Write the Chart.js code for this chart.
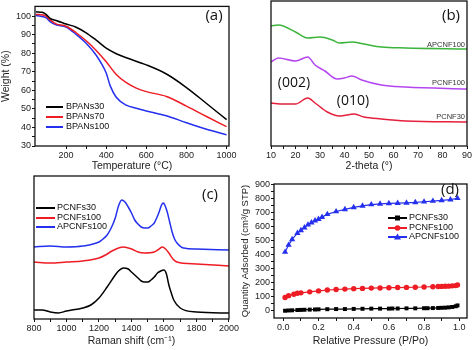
<!DOCTYPE html>
<html>
<head>
<meta charset="utf-8">
<script src="https://cdn.jsdelivr.net/npm/chart.js@4.4.1/dist/chart.umd.min.js"></script>
<style>
  html, body { margin: 0; padding: 0; background: #fff; }
  #fig { position: relative; width: 474px; height: 350px; }
  canvas { position: absolute; }
</style>
</head>
<body>
<div id="fig">
  <canvas id="chartA" width="240" height="175" style="left:0;top:0"></canvas>
  <canvas id="chartB" width="234" height="175" style="left:240px;top:0"></canvas>
  <canvas id="chartC" width="240" height="175" style="left:0;top:175px"></canvas>
  <canvas id="chartD" width="234" height="175" style="left:240px;top:175px"></canvas>
</div>
<script>
// (a) TGA weight loss
const tgaTemp30 = [50, 80, 100, 120, 150, 200, 250, 300, 350, 400, 450, 500, 600, 700, 800, 900, 1000];
const tgaBPANs30 = [102.3, 102, 100.9, 98.8, 97.6, 95.7, 94, 91, 87, 82.7, 79.7, 77.5, 73.7, 68.8, 61.5, 52.9, 44.2];
const tgaTemp70 = [50, 100, 120, 150, 200, 250, 300, 350, 400, 450, 500, 550, 600, 700, 800, 900, 1000];
const tgaBPANs70 = [101, 100, 97.9, 95.8, 94.5, 91, 86.7, 81.5, 75.4, 68.5, 64.1, 61.2, 59.3, 56.7, 51.5, 45.9, 40.4];
const tgaTemp100 = [50, 100, 120, 150, 200, 250, 300, 350, 380, 400, 420, 450, 500, 550, 600, 700, 800, 900, 1000];
const tgaBPANs100 = [100.3, 99.1, 97, 95.3, 94.1, 90.1, 85.3, 78.9, 73.7, 69.3, 62.4, 56.3, 52, 50.3, 48.9, 46.3, 42.5, 39, 36];
const tgaXTicks = [200, 400, 600, 800, 1000];
const tgaYTicks = [30, 40, 50, 60, 70, 80, 90, 100];

// (b) XRD patterns (a.u.)
const xrdApcnfX = [10, 13, 20, 25, 30, 35, 38, 43, 48, 55, 65, 90];
const xrdApcnf100 = [120, 121, 114, 108, 109, 106, 103, 104, 102, 99, 98, 97];
const xrdPcnf100X = [10, 13, 20, 25, 28, 32, 37, 40, 43, 47, 55, 65, 90];
const xrdPcnf100 = [84, 88, 85, 89, 81, 75, 67, 68, 70, 66, 61, 59, 57];
const xrdPcnf30X = [10, 15, 20, 25, 28, 33, 38, 44, 48, 55, 65, 90];
const xrdPcnf30 = [43, 42, 42, 48, 43, 34, 30, 32, 29, 27, 25, 24];
const xrdXTicks = [10, 20, 30, 40, 50, 60, 70, 80, 90];

// (c) Raman spectra (a.u.)
const ramanApcnfX = [800, 900, 1000, 1100, 1200, 1225, 1250, 1275, 1300, 1320, 1340, 1360, 1380, 1400, 1420, 1440, 1460, 1480, 1500, 1520, 1540, 1555, 1570, 1585, 1595, 1605, 1620, 1635, 1650, 1665, 1680, 1720, 1800, 2000];
const ramanApcnfs100 = [72, 73, 72, 73, 77, 80, 84, 91, 101, 113, 119, 117, 112, 106, 99, 95, 92, 91, 91, 93, 96, 101, 107, 114, 116, 114, 107, 97, 87, 80, 76, 71, 70, 69];
const ramanPcnf100X = [800, 900, 1000, 1100, 1200, 1240, 1280, 1320, 1350, 1400, 1440, 1480, 1540, 1570, 1590, 1610, 1630, 1655, 1680, 1800, 2000];
const ramanPcnfs100 = [57, 56, 57, 58, 61, 64, 68, 71, 72, 70, 67, 66, 67, 70, 72, 70, 66, 60, 57, 55, 53];
const ramanPcnf30X = [800, 850, 900, 950, 1000, 1100, 1150, 1200, 1250, 1300, 1320, 1350, 1380, 1400, 1420, 1440, 1460, 1480, 1500, 1520, 1540, 1560, 1580, 1600, 1615, 1630, 1645, 1660, 1700, 1800, 2000];
const ramanPcnfs30 = [9, 9, 7, 6, 8, 11, 14, 21, 32, 44, 48, 51, 50, 47, 44, 41, 38, 37, 37, 39, 42, 46, 48, 49, 45, 34, 26, 19, 11, 7, 6];
const ramanXTicks = [800, 1000, 1200, 1400, 1600, 1800, 2000];

// (d) N2 isotherms
const isoP = [0.01, 0.03, 0.05, 0.08, 0.1, 0.12, 0.14, 0.16, 0.18, 0.2, 0.22, 0.25, 0.3, 0.35, 0.4, 0.45, 0.5, 0.55, 0.6, 0.65, 0.7, 0.75, 0.8, 0.85, 0.9, 0.95, 0.99];
const isoApcnfs100 = [420, 470, 510, 555, 575, 595, 615, 630, 645, 655, 670, 690, 710, 725, 740, 750, 760, 765, 768, 770, 772, 775, 780, 785, 790, 795, 805];
const isoP2 = [0.01, 0.03, 0.06, 0.08, 0.1, 0.15, 0.2, 0.25, 0.3, 0.35, 0.4, 0.45, 0.5, 0.55, 0.6, 0.65, 0.7, 0.75, 0.8, 0.85, 0.88, 0.9, 0.92, 0.94, 0.96, 0.98, 0.99];
const isoPcnfs100 = [95, 108, 118, 125, 128, 135, 142, 148, 152, 155, 158, 160, 162, 163, 165, 166, 167, 168, 170, 172, 173, 174, 175, 176, 178, 180, 185];
const isoP3 = [0.01, 0.03, 0.05, 0.08, 0.1, 0.12, 0.15, 0.18, 0.2, 0.25, 0.3, 0.35, 0.4, 0.45, 0.5, 0.55, 0.6, 0.62, 0.65, 0.7, 0.75, 0.8, 0.82, 0.85, 0.88, 0.9, 0.92, 0.94, 0.96, 0.98, 0.99];
const isoPcnfs30 = [0, 2, 3, 5, 6, 7, 8, 9, 10, 11, 12, 12, 13, 14, 15, 15, 15, 16, 16, 17, 17, 18, 18, 19, 20, 21, 22, 24, 27, 32, 38];
const isoXTicks = [0, 0.2, 0.4, 0.6, 0.8, 1.0];
const isoYTicks = [0, 100, 200, 300, 400, 500, 600, 700, 800, 900];

const FONT = '"Liberation Sans", Arial, sans-serif';

function pts(xs, ys) {
  return xs.map((x, i) => ({ x: x, y: ys[i] }));
}

// majors plus unlabeled minor ticks halfway between them
function withMinors(major) {
  const out = [];
  major.forEach((v, i) => {
    out.push({ value: v });
    if (i < major.length - 1) out.push({ value: (v + major[i + 1]) / 2, minor: true });
  });
  return out;
}

// frame round the plot area + free text + hand placed legend
const panelDecor = {
  id: 'panelDecor',
  afterDraw(chart, args, opts) {
    const ctx = chart.ctx;
    const a = chart.chartArea;
    ctx.save();
    ctx.strokeStyle = '#111';
    ctx.lineWidth = 1.3;
    ctx.strokeRect(a.left, a.top, a.right - a.left, a.bottom - a.top);
    (opts.texts || []).forEach(t => {
      ctx.fillStyle = t.color || '#111';
      ctx.font = t.font;
      ctx.textAlign = t.align || 'center';
      ctx.textBaseline = 'middle';
      ctx.fillText(t.text, t.x, t.y);
    });
    if (opts.legend) {
      const lg = opts.legend;
      chart.data.datasets.forEach((ds, i) => {
        const y = lg.ys[i];
        ctx.strokeStyle = ds.borderColor;
        ctx.lineWidth = 2;
        ctx.beginPath();
        ctx.moveTo(lg.x0, y);
        ctx.lineTo(lg.x1, y);
        ctx.stroke();
        if (lg.markers) {
          const cx = (lg.x0 + lg.x1) / 2;
          ctx.fillStyle = ds.borderColor;
          ctx.beginPath();
          if (ds.pointStyle === 'rect') {
            ctx.rect(cx - 2.5, y - 2.5, 5, 5);
          } else if (ds.pointStyle === 'triangle') {
            ctx.moveTo(cx, y - 3.5); ctx.lineTo(cx + 3.5, y + 2.5); ctx.lineTo(cx - 3.5, y + 2.5); ctx.closePath();
          } else {
            ctx.arc(cx, y, 2.8, 0, Math.PI * 2);
          }
          ctx.fill();
        }
        ctx.fillStyle = '#111';
        ctx.font = lg.font;
        ctx.textAlign = 'left';
        ctx.textBaseline = 'middle';
        ctx.fillText(ds.label, lg.tx, y);
      });
    }
    ctx.restore();
  }
};
Chart.register(panelDecor);

function xAxis(min, max, ticks, title, height, fmt) {
  const f = fmt || (v => v);
  return {
    type: 'linear', position: 'bottom', min: min, max: max,
    afterBuildTicks: s => { s.ticks = withMinors(ticks); },
    afterFit: s => { s.height = height; },
    ticks: { autoSkip: false, maxRotation: 0, padding: 1, color: '#222',
             font: { family: FONT, size: 9 },
             callback: (v, i, all) => all[i].minor ? '' : f(v) },
    grid: { drawOnChartArea: false, drawTicks: true, tickLength: 3, color: '#111', lineWidth: 1 },
    border: { display: false },
    title: { display: true, text: title, color: '#222', padding: { top: 0, bottom: 3 },
             font: { family: FONT, size: 10.5 } }
  };
}

function yAxis(min, max, ticks, title, width) {
  const ax = {
    type: 'linear', min: min, max: max,
    afterFit: s => { s.width = width; },
    border: { display: false }
  };
  if (ticks) {
    ax.afterBuildTicks = s => { s.ticks = withMinors(ticks); };
    ax.ticks = { autoSkip: false, padding: 1, color: '#222', font: { family: FONT, size: 9 },
                 callback: (v, i, all) => all[i].minor ? '' : v };
    ax.grid = { drawOnChartArea: false, drawTicks: true, tickLength: 3, color: '#111', lineWidth: 1 };
    ax.title = { display: true, text: title, color: '#222', padding: 0,
                 font: { family: FONT, size: title.length > 15 ? 9.5 : 10.5 } };
  } else {
    ax.ticks = { display: false };
    ax.grid = { display: false };
  }
  return ax;
}

function lineSet(label, data, color) {
  return { label: label, data: data, borderColor: color, backgroundColor: color,
           borderWidth: 1.5, pointRadius: 0, tension: 0.4, cubicInterpolationMode: 'monotone' };
}

function baseOptions(pad, scales, decor) {
  return {
    responsive: false, animation: false, devicePixelRatio: 1,
    layout: { padding: pad },
    scales: scales,
    plugins: { legend: { display: false }, tooltip: { enabled: false }, panelDecor: decor }
  };
}

// (a)
new Chart(document.getElementById('chartA'), {
  type: 'line',
  data: { datasets: [
    lineSet('BPANs30', pts(tgaTemp30, tgaBPANs30), '#000000'),
    lineSet('BPANs70', pts(tgaTemp70, tgaBPANs70), '#ee1c24'),
    lineSet('BPANs100', pts(tgaTemp100, tgaBPANs100), '#2430ee')
  ] },
  options: baseOptions({ top: 1, right: 11 }, {
    x: xAxis(45, 1012, tgaXTicks, 'Temperature (°C)', 29),
    y: yAxis(30, 105.2, tgaYTicks, 'Weight (%)', 35)
  }, {
    texts: [{ text: '(a)', x: 214, y: 16, font: '15px "Open Sans", sans-serif' }],
    legend: { x0: 46, x1: 63, tx: 66, ys: [107, 117, 127], font: '9px ' + FONT }
  })
});

// (b)
new Chart(document.getElementById('chartB'), {
  type: 'line',
  data: { datasets: [
    lineSet('APCNF100', pts(xrdApcnfX, xrdApcnf100), '#3cb43c'),
    lineSet('PCNF100', pts(xrdPcnf100X, xrdPcnf100), '#b446f0'),
    lineSet('PCNF30', pts(xrdPcnf30X, xrdPcnf30), '#e4203c')
  ] },
  options: baseOptions({ top: 1, right: 7 }, {
    x: xAxis(10, 90, xrdXTicks, '2-theta (°)', 29),
    y: yAxis(0, 145, null, '', 31)
  }, {
    texts: [
      { text: '(b)', x: 211, y: 16, font: '15px "Open Sans", sans-serif' },
      { text: '(002)', x: 54, y: 83, font: '14px "Open Sans", sans-serif' },
      { text: '(010)', x: 113, y: 101, font: '14px "Open Sans", sans-serif' },
      { text: 'APCNF100', x: 225, y: 45, align: 'right', font: '7.5px ' + FONT, color: '#333' },
      { text: 'PCNF100', x: 225, y: 83, align: 'right', font: '7.5px ' + FONT, color: '#333' },
      { text: 'PCNF30', x: 225, y: 117, align: 'right', font: '7.5px ' + FONT, color: '#333' }
    ]
  })
});

// (c)
new Chart(document.getElementById('chartC'), {
  type: 'line',
  data: { datasets: [
    lineSet('PCNFs30', pts(ramanPcnf30X, ramanPcnfs30), '#000000'),
    lineSet('PCNFs100', pts(ramanPcnf100X, ramanPcnfs100), '#ee1c24'),
    lineSet('APCNFs100', pts(ramanApcnfX, ramanApcnfs100), '#2430ee')
  ] },
  options: baseOptions({ top: 1, right: 11 }, {
    x: xAxis(800, 2000, ramanXTicks, 'Raman shift (cm⁻¹)', 31),
    y: yAxis(0, 143, null, '', 34)
  }, {
    texts: [{ text: '(c)', x: 210, y: 20, font: '15px "Open Sans", sans-serif' }],
    legend: { x0: 36, x1: 55, tx: 57, ys: [33, 43, 52], font: '9px ' + FONT }
  })
});

// (d)
function markSet(label, data, color, style, r) {
  return { label: label, data: data, borderColor: color, backgroundColor: color,
           borderWidth: 1.2, pointStyle: style, pointRadius: r, pointBorderWidth: 0, tension: 0 };
}
new Chart(document.getElementById('chartD'), {
  type: 'line',
  data: { datasets: [
    markSet('PCNFs30', pts(isoP3, isoPcnfs30), '#000000', 'rect', 2.8),
    markSet('PCNFs100', pts(isoP2, isoPcnfs100), '#ee1c24', 'circle', 2.7),
    markSet('APCNFs100', pts(isoP, isoApcnfs100), '#2430ee', 'triangle', 3.6)
  ] },
  options: baseOptions({ top: 9, right: 7 }, {
    x: xAxis(-0.053, 1.044, isoXTicks, 'Relative Pressure (P/Po)', 32, v => v.toFixed(1)),
    y: yAxis(-52, 907, isoYTicks, 'Quantity Adsorbed (cm³/g STP)', 34)
  }, {
    texts: [{ text: '(d)', x: 210, y: 15, font: '15px "Open Sans", sans-serif' }],
    legend: { x0: 148, x1: 167, tx: 169, ys: [43, 53, 62], font: '9px ' + FONT, markers: true }
  })
});
</script>
</body>
</html>
